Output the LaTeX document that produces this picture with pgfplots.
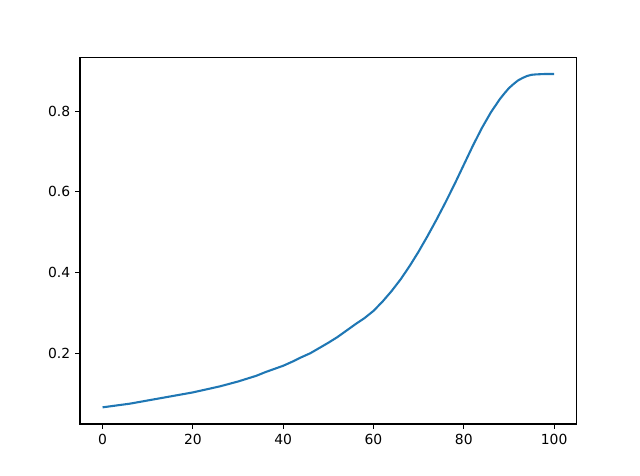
\documentclass[border=0pt]{standalone}
\usepackage{fontspec}
\setmainfont{DejaVu Sans}
\usepackage{pgfplots}
\pgfplotsset{compat=1.18}
\definecolor{mplblue}{HTML}{1F77B4}

\pgfplotstableread{
x y
0 0.066
2 0.069
4 0.072
6 0.075
8 0.079
10 0.083
12 0.087
14 0.091
16 0.095
18 0.099
20 0.103
22 0.108
24 0.113
26 0.118
28 0.124
30 0.130
32 0.137
34 0.144
36 0.153
38 0.161
40 0.169
42 0.179
44 0.190
46 0.200
48 0.213
50 0.226
52 0.240
54 0.256
56 0.272
58 0.287
60 0.305
62 0.328
64 0.354
66 0.383
68 0.416
70 0.452
72 0.491
74 0.532
76 0.575
78 0.620
80 0.667
82 0.714
84 0.758
86 0.797
88 0.830
89 0.844
90 0.857
91 0.867
92 0.876
93 0.882
94 0.887
95 0.890
96 0.891
98 0.892
100 0.892
}\curve

\begin{document}
\begin{tikzpicture}
% page frame: 640x476 px at 100 dpi, axes box at matplotlib's default place
\useasboundingbox (-57.6pt,-37.44pt) rectangle (403.2pt,305.28pt);
\begin{axis}[
    at={(0,0)}, anchor=south west,
    scale only axis,
    width=357.6pt, height=264pt,
    xmin=-5, xmax=105,
    ymin=0.0247, ymax=0.9333,
    xtick={0,20,40,60,80,100},
    ytick={0.2,0.4,0.6,0.8},
    tick align=outside, tick pos=left,
    major tick length=3.5pt,
    every tick/.style={black, line width=0.8pt},
    axis line style={line width=0.8pt},
    tick label style={font=\fontsize{10}{12}\selectfont},
    /pgf/number format/assume math mode=true,
    y tick label style={/pgf/number format/.cd, fixed, fixed zerofill, precision=1, /tikz/.cd},
]
\addplot[mplblue, line width=1.5pt, no marks] table[x=x, y=y] {\curve};
\end{axis}
\end{tikzpicture}
\end{document}
